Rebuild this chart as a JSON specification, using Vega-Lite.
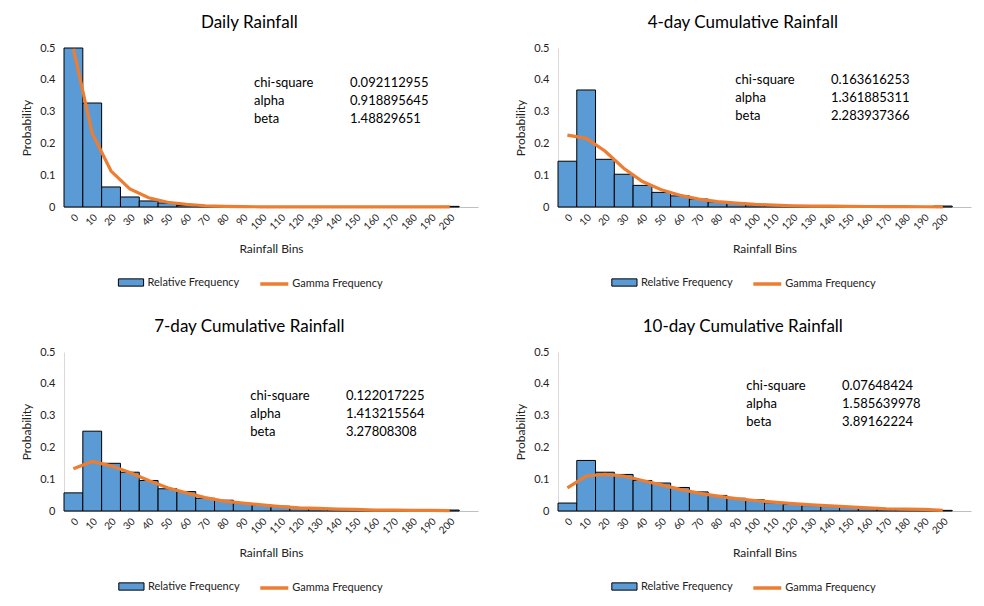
{
  "$schema": "https://vega.github.io/schema/vega-lite/v6.json",
  "padding": {"left": 20, "top": 14, "right": 5, "bottom": 5},
  "background": "white",
  "config": {
    "font": "Lato",
    "view": {"stroke": null},
    "title": {"font": "Lato", "fontSize": 17, "fontWeight": "normal", "color": "#000", "anchor": "middle", "frame": "bounds", "offset": 10},
    "axis": {"grid": false, "ticks": false, "labelFont": "Lato", "titleFont": "Lato", "titleFontWeight": "normal", "labelColor": "#222", "titleColor": "#222"},
    "axisX": {"domainColor": "#bfbfbf", "labelAngle": -45, "labelFontSize": 10, "labelPadding": 5, "titleFontSize": 12, "titlePadding": 12},
    "axisY": {"domainColor": "#d9d9d9", "labelFontSize": 11, "labelPadding": 9, "titleFontSize": 12, "titlePadding": 6},
    "legend": {"orient": "none", "direction": "horizontal", "title": null, "padding": 0, "symbolSize": 784, "labelOffset": 2, "labelFontSize": 11, "labelFont": "Lato", "labelColor": "#222"}
  },
  "datasets": {
    "daily": [
      {"bin": 0, "rel": 0.5, "gamma": 0.497}, {"bin": 10, "rel": 0.327, "gamma": 0.232}, {"bin": 20, "rel": 0.063, "gamma": 0.113},
      {"bin": 30, "rel": 0.0315, "gamma": 0.057}, {"bin": 40, "rel": 0.019, "gamma": 0.029}, {"bin": 50, "rel": 0.0126, "gamma": 0.015},
      {"bin": 60, "rel": 0.005, "gamma": 0.008}, {"bin": 70, "rel": 0.003, "gamma": 0.004}, {"bin": 80, "rel": 0.002, "gamma": 0.002},
      {"bin": 90, "rel": 0.0015, "gamma": 0.001}, {"bin": 100, "rel": 0.001, "gamma": 0.0006}, {"bin": 110, "rel": 0.0008, "gamma": 0.0003},
      {"bin": 120, "rel": 0.0006, "gamma": 0.0002}, {"bin": 130, "rel": 0.0005, "gamma": 0.0001}, {"bin": 140, "rel": 0.0004, "gamma": 0.0001},
      {"bin": 150, "rel": 0.0003, "gamma": 0.0001}, {"bin": 160, "rel": 0.0002, "gamma": 0.0001}, {"bin": 170, "rel": 0.0002, "gamma": 0.0001},
      {"bin": 180, "rel": 0.0001, "gamma": 0.0001}, {"bin": 190, "rel": 0.0001, "gamma": 0.0001}, {"bin": 200, "rel": 0.002, "gamma": 0.0001}
    ],
    "d4": [
      {"bin": 0, "rel": 0.144, "gamma": 0.226}, {"bin": 10, "rel": 0.368, "gamma": 0.216}, {"bin": 20, "rel": 0.150, "gamma": 0.176},
      {"bin": 30, "rel": 0.103, "gamma": 0.122}, {"bin": 40, "rel": 0.068, "gamma": 0.080}, {"bin": 50, "rel": 0.046, "gamma": 0.054},
      {"bin": 60, "rel": 0.035, "gamma": 0.037}, {"bin": 70, "rel": 0.025, "gamma": 0.025}, {"bin": 80, "rel": 0.016, "gamma": 0.017},
      {"bin": 90, "rel": 0.012, "gamma": 0.012}, {"bin": 100, "rel": 0.007, "gamma": 0.008}, {"bin": 110, "rel": 0.006, "gamma": 0.006},
      {"bin": 120, "rel": 0.004, "gamma": 0.004}, {"bin": 130, "rel": 0.003, "gamma": 0.003}, {"bin": 140, "rel": 0.002, "gamma": 0.003},
      {"bin": 150, "rel": 0.0015, "gamma": 0.002}, {"bin": 160, "rel": 0.001, "gamma": 0.0015}, {"bin": 170, "rel": 0.001, "gamma": 0.001},
      {"bin": 180, "rel": 0.0008, "gamma": 0.001}, {"bin": 190, "rel": 0.0005, "gamma": 0.0008}, {"bin": 200, "rel": 0.003, "gamma": 0.0005}
    ],
    "d7": [
      {"bin": 0, "rel": 0.057, "gamma": 0.133}, {"bin": 10, "rel": 0.251, "gamma": 0.156}, {"bin": 20, "rel": 0.150, "gamma": 0.142},
      {"bin": 30, "rel": 0.122, "gamma": 0.121}, {"bin": 40, "rel": 0.096, "gamma": 0.096}, {"bin": 50, "rel": 0.070, "gamma": 0.073},
      {"bin": 60, "rel": 0.061, "gamma": 0.057}, {"bin": 70, "rel": 0.040, "gamma": 0.042}, {"bin": 80, "rel": 0.034, "gamma": 0.031},
      {"bin": 90, "rel": 0.024, "gamma": 0.025}, {"bin": 100, "rel": 0.019, "gamma": 0.019}, {"bin": 110, "rel": 0.015, "gamma": 0.014},
      {"bin": 120, "rel": 0.011, "gamma": 0.010}, {"bin": 130, "rel": 0.008, "gamma": 0.008}, {"bin": 140, "rel": 0.006, "gamma": 0.006},
      {"bin": 150, "rel": 0.005, "gamma": 0.005}, {"bin": 160, "rel": 0.003, "gamma": 0.003}, {"bin": 170, "rel": 0.002, "gamma": 0.003},
      {"bin": 180, "rel": 0.002, "gamma": 0.002}, {"bin": 190, "rel": 0.001, "gamma": 0.002}, {"bin": 200, "rel": 0.003, "gamma": 0.001}
    ],
    "d10": [
      {"bin": 0, "rel": 0.025, "gamma": 0.073}, {"bin": 10, "rel": 0.159, "gamma": 0.110}, {"bin": 20, "rel": 0.122, "gamma": 0.115},
      {"bin": 30, "rel": 0.115, "gamma": 0.110}, {"bin": 40, "rel": 0.096, "gamma": 0.096}, {"bin": 50, "rel": 0.088, "gamma": 0.082},
      {"bin": 60, "rel": 0.074, "gamma": 0.068}, {"bin": 70, "rel": 0.060, "gamma": 0.056}, {"bin": 80, "rel": 0.049, "gamma": 0.047},
      {"bin": 90, "rel": 0.040, "gamma": 0.039}, {"bin": 100, "rel": 0.035, "gamma": 0.033}, {"bin": 110, "rel": 0.026, "gamma": 0.028},
      {"bin": 120, "rel": 0.021, "gamma": 0.023}, {"bin": 130, "rel": 0.017, "gamma": 0.019}, {"bin": 140, "rel": 0.014, "gamma": 0.016},
      {"bin": 150, "rel": 0.012, "gamma": 0.013}, {"bin": 160, "rel": 0.008, "gamma": 0.010}, {"bin": 170, "rel": 0.006, "gamma": 0.007},
      {"bin": 180, "rel": 0.005, "gamma": 0.006}, {"bin": 190, "rel": 0.004, "gamma": 0.005}, {"bin": 200, "rel": 0.002, "gamma": 0.002}
    ],
    "s1": [{"stat": "chi-square", "value": "0.092112955", "rank": 1}, {"stat": "alpha", "value": "0.918895645", "rank": 2}, {"stat": "beta", "value": "1.48829651", "rank": 3}],
    "s2": [{"stat": "chi-square", "value": "0.163616253", "rank": 1}, {"stat": "alpha", "value": "1.361885311", "rank": 2}, {"stat": "beta", "value": "2.283937366", "rank": 3}],
    "s3": [{"stat": "chi-square", "value": "0.122017225", "rank": 1}, {"stat": "alpha", "value": "1.413215564", "rank": 2}, {"stat": "beta", "value": "3.27808308", "rank": 3}],
    "s4": [{"stat": "chi-square", "value": "0.07648424", "rank": 1}, {"stat": "alpha", "value": "1.585639978", "rank": 2}, {"stat": "beta", "value": "3.89162224", "rank": 3}]
  },
  "columns": 2,
  "spacing": {"column": 36, "row": 27},
  "resolve": {"scale": {"fill": "independent", "stroke": "independent"}, "legend": {"fill": "independent", "stroke": "independent"}},
  "concat": [
    {
      "width": 414, "height": 159,
      "title": "Daily Rainfall",
      "layer": [
        {"data": {"name": "daily"}, "mark": {"type": "bar", "stroke": "#000", "strokeWidth": 1},
         "encoding": {
           "x": {"field": "bin", "type": "ordinal", "title": "Rainfall Bins", "scale": {"domain": [0,10,20,30,40,50,60,70,80,90,100,110,120,130,140,150,160,170,180,190,200,210], "paddingInner": 0, "paddingOuter": 0}, "axis": {"labelExpr": "datum.value == 210 ? '' : datum.label"}},
           "y": {"field": "rel", "type": "quantitative", "title": "Probability", "scale": {"domain": [0, 0.5], "nice": false}, "axis": {"values": [0, 0.1, 0.2, 0.3, 0.4, 0.5], "format": ".1~f"}},
           "fill": {"datum": "Relative Frequency", "scale": {"domain": ["Relative Frequency"], "range": ["#5b9bd5"]},
             "legend": {"legendX": 52.5, "legendY": 220, "symbolType": "M-0.9,-0.26H0.9V0.26H-0.9Z", "symbolStrokeColor": "#000", "symbolStrokeWidth": 1}}
         }},
        {"data": {"name": "daily"}, "mark": {"type": "line", "strokeWidth": 3.2},
         "encoding": {
           "x": {"field": "bin", "type": "ordinal"},
           "y": {"field": "gamma", "type": "quantitative", "scale": {"domain": [0, 0.5], "nice": false}, "axis": null},
           "stroke": {"datum": "Gamma Frequency", "scale": {"domain": ["Gamma Frequency"], "range": ["#ed7d31"]},
             "legend": {"legendX": 194.3, "legendY": 220, "symbolType": "stroke", "symbolStrokeWidth": 3.5}}
         }},
        {"data": {"name": "s1"}, "mark": {"type": "text", "align": "left", "baseline": "middle", "fontSize": 13, "color": "#000", "dx": -7.6, "dy": 17.5},
         "encoding": {"x": {"datum": 100, "type": "ordinal"}, "y": {"field": "rank", "type": "quantitative", "scale": {"domain": [0, 9], "reverse": true, "nice": false, "zero": false}, "axis": null}, "text": {"field": "stat"}}},
        {"data": {"name": "s1"}, "mark": {"type": "text", "align": "left", "baseline": "middle", "fontSize": 13, "color": "#000", "dx": -5.7, "dy": 17.5},
         "encoding": {"x": {"datum": 150, "type": "ordinal"}, "y": {"field": "rank", "type": "quantitative", "scale": {"domain": [0, 9], "reverse": true, "nice": false, "zero": false}, "axis": null}, "text": {"field": "value"}}}
      ],
      "resolve": {"scale": {"y": "independent"}}
    },
    {
      "width": 413, "height": 159,
      "title": "4-day Cumulative Rainfall",
      "layer": [
        {"data": {"name": "d4"}, "mark": {"type": "bar", "stroke": "#000", "strokeWidth": 1},
         "encoding": {
           "x": {"field": "bin", "type": "ordinal", "title": "Rainfall Bins", "scale": {"domain": [0,10,20,30,40,50,60,70,80,90,100,110,120,130,140,150,160,170,180,190,200,210], "paddingInner": 0, "paddingOuter": 0}, "axis": {"labelExpr": "datum.value == 210 ? '' : datum.label"}},
           "y": {"field": "rel", "type": "quantitative", "title": "Probability", "scale": {"domain": [0, 0.5], "nice": false}, "axis": {"values": [0, 0.1, 0.2, 0.3, 0.4, 0.5], "format": ".1~f"}},
           "fill": {"datum": "Relative Frequency", "scale": {"domain": ["Relative Frequency"], "range": ["#5b9bd5"]},
             "legend": {"legendX": 51.9, "legendY": 220, "symbolType": "M-0.9,-0.26H0.9V0.26H-0.9Z", "symbolStrokeColor": "#000", "symbolStrokeWidth": 1}}
         }},
        {"data": {"name": "d4"}, "mark": {"type": "line", "strokeWidth": 3.2},
         "encoding": {
           "x": {"field": "bin", "type": "ordinal"},
           "y": {"field": "gamma", "type": "quantitative", "scale": {"domain": [0, 0.5], "nice": false}, "axis": null},
           "stroke": {"datum": "Gamma Frequency", "scale": {"domain": ["Gamma Frequency"], "range": ["#ed7d31"]},
             "legend": {"legendX": 193.3, "legendY": 220, "symbolType": "stroke", "symbolStrokeWidth": 3.5}}
         }},
        {"data": {"name": "s2"}, "mark": {"type": "text", "align": "left", "baseline": "middle", "fontSize": 13, "color": "#000", "dx": -1, "dy": 14.5},
         "encoding": {"x": {"datum": 90, "type": "ordinal"}, "y": {"field": "rank", "type": "quantitative", "scale": {"domain": [0, 9], "reverse": true, "nice": false, "zero": false}, "axis": null}, "text": {"field": "stat"}}},
        {"data": {"name": "s2"}, "mark": {"type": "text", "align": "left", "baseline": "middle", "fontSize": 13, "color": "#000", "dx": 0.8, "dy": 14.5},
         "encoding": {"x": {"datum": 140, "type": "ordinal"}, "y": {"field": "rank", "type": "quantitative", "scale": {"domain": [0, 9], "reverse": true, "nice": false, "zero": false}, "axis": null}, "text": {"field": "value"}}}
      ],
      "resolve": {"scale": {"y": "independent"}}
    },
    {
      "width": 414, "height": 159,
      "title": "7-day Cumulative Rainfall",
      "layer": [
        {"data": {"name": "d7"}, "mark": {"type": "bar", "stroke": "#000", "strokeWidth": 1},
         "encoding": {
           "x": {"field": "bin", "type": "ordinal", "title": "Rainfall Bins", "scale": {"domain": [0,10,20,30,40,50,60,70,80,90,100,110,120,130,140,150,160,170,180,190,200,210], "paddingInner": 0, "paddingOuter": 0}, "axis": {"labelExpr": "datum.value == 210 ? '' : datum.label"}},
           "y": {"field": "rel", "type": "quantitative", "title": "Probability", "scale": {"domain": [0, 0.5], "nice": false}, "axis": {"values": [0, 0.1, 0.2, 0.3, 0.4, 0.5], "format": ".1~f"}},
           "fill": {"datum": "Relative Frequency", "scale": {"domain": ["Relative Frequency"], "range": ["#5b9bd5"]},
             "legend": {"legendX": 52.9, "legendY": 220, "symbolType": "M-0.9,-0.26H0.9V0.26H-0.9Z", "symbolStrokeColor": "#000", "symbolStrokeWidth": 1}}
         }},
        {"data": {"name": "d7"}, "mark": {"type": "line", "strokeWidth": 3.2},
         "encoding": {
           "x": {"field": "bin", "type": "ordinal"},
           "y": {"field": "gamma", "type": "quantitative", "scale": {"domain": [0, 0.5], "nice": false}, "axis": null},
           "stroke": {"datum": "Gamma Frequency", "scale": {"domain": ["Gamma Frequency"], "range": ["#ed7d31"]},
             "legend": {"legendX": 194.3, "legendY": 220, "symbolType": "stroke", "symbolStrokeWidth": 3.5}}
         }},
        {"data": {"name": "s3"}, "mark": {"type": "text", "align": "left", "baseline": "middle", "fontSize": 13, "color": "#000", "dx": 7.5, "dy": 26.5},
         "encoding": {"x": {"datum": 90, "type": "ordinal"}, "y": {"field": "rank", "type": "quantitative", "scale": {"domain": [0, 9], "reverse": true, "nice": false, "zero": false}, "axis": null}, "text": {"field": "stat"}}},
        {"data": {"name": "s3"}, "mark": {"type": "text", "align": "left", "baseline": "middle", "fontSize": 13, "color": "#000", "dx": 9.1, "dy": 26.5},
         "encoding": {"x": {"datum": 140, "type": "ordinal"}, "y": {"field": "rank", "type": "quantitative", "scale": {"domain": [0, 9], "reverse": true, "nice": false, "zero": false}, "axis": null}, "text": {"field": "value"}}}
      ],
      "resolve": {"scale": {"y": "independent"}}
    },
    {
      "width": 413, "height": 159,
      "title": "10-day Cumulative Rainfall",
      "layer": [
        {"data": {"name": "d10"}, "mark": {"type": "bar", "stroke": "#000", "strokeWidth": 1},
         "encoding": {
           "x": {"field": "bin", "type": "ordinal", "title": "Rainfall Bins", "scale": {"domain": [0,10,20,30,40,50,60,70,80,90,100,110,120,130,140,150,160,170,180,190,200,210], "paddingInner": 0, "paddingOuter": 0}, "axis": {"labelExpr": "datum.value == 210 ? '' : datum.label"}},
           "y": {"field": "rel", "type": "quantitative", "title": "Probability", "scale": {"domain": [0, 0.5], "nice": false}, "axis": {"values": [0, 0.1, 0.2, 0.3, 0.4, 0.5], "format": ".1~f"}},
           "fill": {"datum": "Relative Frequency", "scale": {"domain": ["Relative Frequency"], "range": ["#5b9bd5"]},
             "legend": {"legendX": 51.9, "legendY": 220, "symbolType": "M-0.9,-0.26H0.9V0.26H-0.9Z", "symbolStrokeColor": "#000", "symbolStrokeWidth": 1}}
         }},
        {"data": {"name": "d10"}, "mark": {"type": "line", "strokeWidth": 3.2},
         "encoding": {
           "x": {"field": "bin", "type": "ordinal"},
           "y": {"field": "gamma", "type": "quantitative", "scale": {"domain": [0, 0.5], "nice": false}, "axis": null},
           "stroke": {"datum": "Gamma Frequency", "scale": {"domain": ["Gamma Frequency"], "range": ["#ed7d31"]},
             "legend": {"legendX": 193.3, "legendY": 220, "symbolType": "stroke", "symbolStrokeWidth": 3.5}}
         }},
        {"data": {"name": "s4"}, "mark": {"type": "text", "align": "left", "baseline": "middle", "fontSize": 13, "color": "#000", "dx": -8.8, "dy": 16.5},
         "encoding": {"x": {"datum": 100, "type": "ordinal"}, "y": {"field": "rank", "type": "quantitative", "scale": {"domain": [0, 9], "reverse": true, "nice": false, "zero": false}, "axis": null}, "text": {"field": "stat"}}},
        {"data": {"name": "s4"}, "mark": {"type": "text", "align": "left", "baseline": "middle", "fontSize": 13, "color": "#000", "dx": -6.9, "dy": 16.5},
         "encoding": {"x": {"datum": 150, "type": "ordinal"}, "y": {"field": "rank", "type": "quantitative", "scale": {"domain": [0, 9], "reverse": true, "nice": false, "zero": false}, "axis": null}, "text": {"field": "value"}}}
      ],
      "resolve": {"scale": {"y": "independent"}}
    }
  ]
}
